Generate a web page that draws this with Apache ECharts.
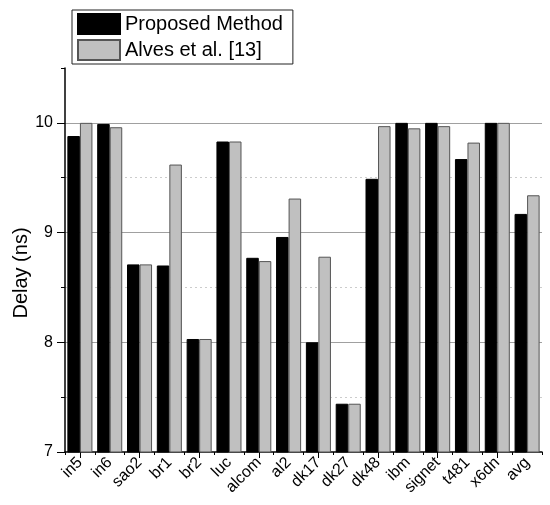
<!DOCTYPE html>
<html>
<head>
<meta charset="utf-8">
<script src="https://cdn.jsdelivr.net/npm/echarts@6/dist/echarts.min.js"></script>
<style>
html,body{margin:0;padding:0;background:#fff;}
#chart{width:550px;height:505px;}
</style>
</head>
<body>
<div id="chart"></div>
<script>
var categories = ['in5','in6','sao2','br1','br2','luc','alcom','al2','dk17','dk27','dk48','ibm','signet','t481','x6dn','avg'];
var proposed = [9.88, 9.99, 8.71, 8.70, 8.03, 9.83, 8.77, 8.96, 8.00, 7.44, 9.49, 10.0, 10.0, 9.67, 10.0, 9.17];
var alves    = [10.0, 9.96, 8.71, 9.62, 8.03, 9.83, 8.74, 9.31, 8.78, 7.44, 9.97, 9.95, 9.97, 9.82, 10.0, 9.34];
var yTicks = [7, 8, 9, 10];
var seriesNames = ['Proposed Method', 'Alves et al. [13]'];

var FONT = 'Liberation Sans, Arial, sans-serif';
var chart = echarts.init(document.getElementById('chart'));
chart.setOption({
  animation: false,
  textStyle: { fontFamily: FONT, color: '#000' },
  grid: { left: 65, right: 8, top: 68, bottom: 53, containLabel: false },
  legend: {
    orient: 'vertical',
    left: 72, top: 10,
    itemWidth: 42, itemHeight: 20, itemGap: 4,
    padding: [3, 10, 3, 5],
    borderColor: '#222', borderWidth: 1,
    icon: 'rect',
    textStyle: { fontSize: 20, color: '#000', fontFamily: FONT },
    data: seriesNames
  },
  xAxis: [
    {
      type: 'category', data: categories, position: 'bottom',
      axisLine: { lineStyle: { color: '#000', width: 1.5 } },
      axisTick: { show: true, alignWithLabel: false, length: 3, lineStyle: { color: '#000' } },
      axisLabel: { rotate: 45, fontSize: 16, color: '#000', margin: 8, interval: 0, fontFamily: FONT },
      splitLine: { show: false }
    },
    {
      type: 'category', data: categories, position: 'bottom',
      axisLine: { show: false },
      axisTick: { show: true, alignWithLabel: true, length: 6, lineStyle: { color: '#000' } },
      axisLabel: { show: false },
      splitLine: { show: false }
    }
  ],
  yAxis: [
    {
      type: 'value', min: 7, max: 10.5, interval: 0.5, position: 'left',
      name: 'Delay (ns)', nameLocation: 'middle', nameGap: 34,
      nameTextStyle: { fontSize: 20, color: '#000', fontFamily: FONT, padding: [0, 26, 0, 0] },
      axisLine: { show: true, lineStyle: { color: '#000', width: 1.5 } },
      axisTick: { show: true, length: 4, lineStyle: { color: '#000' } },
      axisLabel: { show: false },
      splitLine: { show: true, showMinLine: false, showMaxLine: false, lineStyle: { color: '#ccc', type: [2, 3], width: 1 } }
    },
    {
      type: 'value', min: 7, max: 10.5, interval: 1, position: 'left',
      axisLine: { show: false },
      axisTick: { show: true, length: 8, customValues: yTicks, lineStyle: { color: '#000' } },
      axisLabel: { show: true, fontSize: 16, color: '#000', margin: 12, customValues: yTicks, fontFamily: FONT,
        formatter: function (v) { return (v % 1 === 0) ? String(v) : ''; } },
      splitLine: { show: true, showMinLine: false, showMaxLine: true, lineStyle: { color: '#a0a0a0', width: 1 } }
    }
  ],
  series: [
    {
      name: seriesNames[0], type: 'bar', data: proposed, xAxisIndex: 0, yAxisIndex: 0,
      barGap: '0%', barCategoryGap: '16%',
      itemStyle: { color: '#000', borderColor: '#000', borderWidth: 1 }
    },
    {
      name: seriesNames[1], type: 'bar', data: alves, xAxisIndex: 0, yAxisIndex: 0,
      barGap: '0%', barCategoryGap: '16%',
      itemStyle: { color: '#c0c0c0', borderColor: '#555', borderWidth: 1 }
    }
  ]
});
</script>
</body>
</html>
